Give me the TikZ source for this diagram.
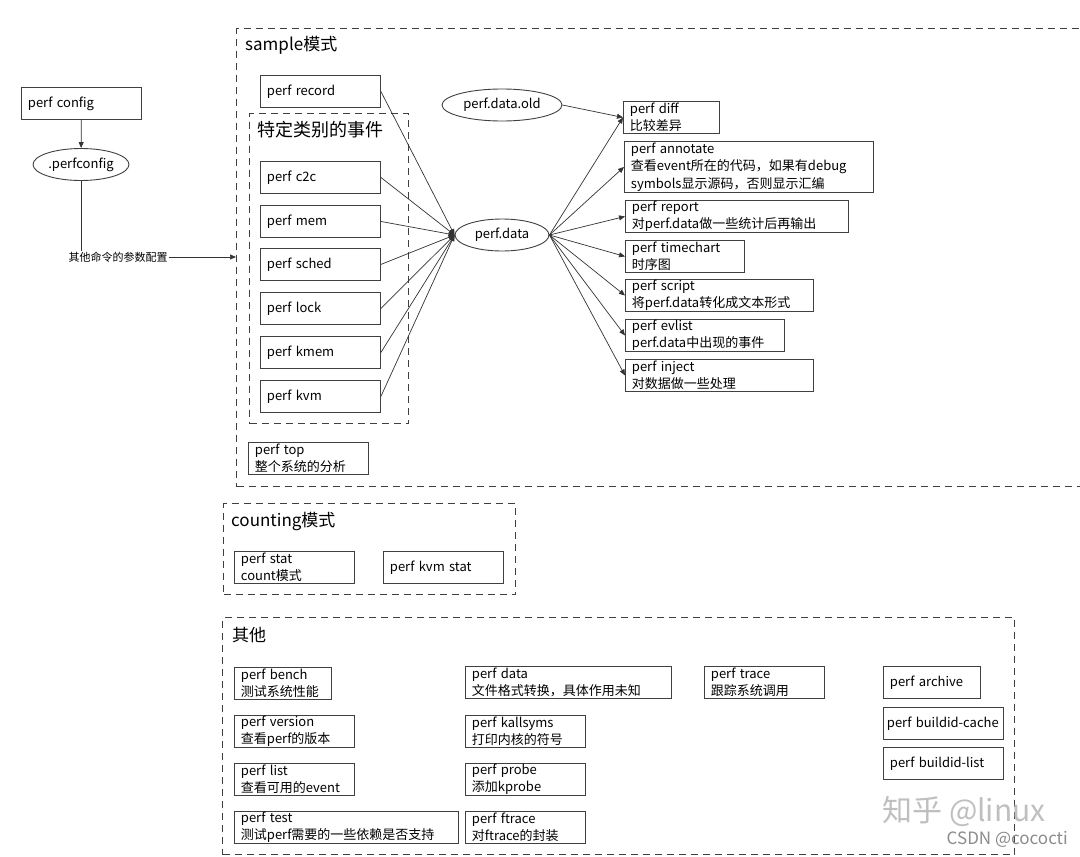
\documentclass[tikz,border=0pt]{standalone}
\usepackage{fontspec}
\setmainfont{Noto Sans CJK SC}
\usepackage{tikz}
\usetikzlibrary{arrows.meta,shapes.geometric}

\tikzset{
  cmdbox/.style={draw=black!75, line width=0.9pt, anchor=north west, inner xsep=6.5pt, inner ysep=0.5pt,
    align=left, minimum height=32pt, font=\fontsize{13}{17.5}\selectfont},
  fileoval/.style={draw=black!75, line width=0.9pt, ellipse, inner sep=0pt, minimum height=32pt,
    font=\fontsize{13}{16}\selectfont},
  groupframe/.style={draw=black!75, line width=1.1pt, dash pattern=on 7pt off 5pt, anchor=north west, inner sep=0pt},
  grouptitle/.style={anchor=west, inner sep=0pt, font=\fontsize{17}{20}\selectfont},
  link/.style={draw=black!80, line width=0.7pt, -{Triangle[length=6pt,width=5pt]}}
}

\begin{document}
\begin{tikzpicture}[x=1pt,y=-1pt]
  \clip (0,0) rectangle (1080,857);
  \fill[white] (0,0) rectangle (1080,857);

  % Config
  \node[cmdbox, text width=107pt] (pcfg) at (21,87) {perf config};
  \node[fileoval, minimum width=96pt] (pcfgfile) at (81,164.5) {.perfconfig};
  \node[inner sep=1pt, font=\fontsize{11}{13}\selectfont] (cfgnote) at (118,257) {其他命令的参数配置};

  % Frames
  \node[groupframe, minimum width=870pt, minimum height=458pt] (sampleframe) at (236,28) {};
  \node[groupframe, minimum width=159pt, minimum height=310pt] (eventframe) at (249,113) {};
  \node[groupframe, minimum width=292pt, minimum height=91pt] (countframe) at (223,503) {};
  \node[groupframe, minimum width=792pt, minimum height=237pt] (otherframe) at (222,617) {};
  \node[grouptitle] (sampletitle) at (245,45) {sample模式};
  \node[grouptitle, font=\fontsize{18}{21}\selectfont] (eventtitle) at (257,130) {特定类别的事件};
  \node[grouptitle] (counttitle) at (231,521) {counting模式};
  \node[grouptitle] (othertitle) at (232,635) {其他};

  % sample
  \node[cmdbox, text width=107pt] (rec) at (260,75) {perf record};
  \node[cmdbox, text width=107pt] (c2c) at (260,161) {perf c2c};
  \node[cmdbox, text width=107pt] (mem) at (260,205) {perf mem};
  \node[cmdbox, text width=107pt] (sched) at (260,248) {perf sched};
  \node[cmdbox, text width=107pt] (lock) at (260,292) {perf lock};
  \node[cmdbox, text width=107pt] (kmem) at (260,336) {perf kmem};
  \node[cmdbox, text width=107pt] (kvm) at (260,380) {perf kvm};
  \node[cmdbox, text width=107pt] (top) at (248,442) {perf top\\整个系统的分析};

  \node[fileoval, minimum width=94pt] (pdata) at (502,235) {perf.data};
  \node[fileoval, minimum width=120pt] (pdataold) at (502,105) {perf.data.old};

  \node[cmdbox, text width=83pt] (diff) at (623,101) {perf diff\\比较差异};
  \node[cmdbox, text width=236pt, minimum height=51pt] (annot) at (624,141) {perf annotate\\查看event所在的代码，如果有debug\\symbols显示源码，否则显示汇编};
  \node[cmdbox, text width=210pt] (report) at (625,200) {perf report\\对perf.data做一些统计后再输出};
  \node[cmdbox, text width=106pt] (tchart) at (625,240) {perf timechart\\时序图};
  \node[cmdbox, text width=175pt] (script) at (625,279) {perf script\\将perf.data转化成文本形式};
  \node[cmdbox, text width=146pt] (evlist) at (625,319) {perf evlist\\perf.data中出现的事件};
  \node[cmdbox, text width=175pt] (inject) at (625,359) {perf inject\\对数据做一些处理};

  % counting
  \node[cmdbox, text width=107pt] (stat) at (234,551) {perf stat\\count模式};
  \node[cmdbox, text width=107pt] (kvmstat) at (383,551) {perf kvm stat};

  % others
  \node[cmdbox, text width=84pt] (bench) at (234,667) {perf bench\\测试系统性能};
  \node[cmdbox, text width=107pt] (version) at (234,715) {perf version\\查看perf的版本};
  \node[cmdbox, text width=107pt] (list) at (234,763) {perf list\\查看可用的event};
  \node[cmdbox, text width=211pt] (test) at (234,811) {perf test\\测试perf需要的一些依赖是否支持};
  \node[cmdbox, text width=193pt] (pdatacmd) at (465,666) {perf data\\文件格式转换，具体作用未知};
  \node[cmdbox, text width=107pt] (kallsyms) at (465,715) {perf kallsyms\\打印内核的符号};
  \node[cmdbox, text width=107pt] (probe) at (465,763) {perf probe\\添加kprobe};
  \node[cmdbox, text width=107pt] (ftrace) at (465,811) {perf ftrace\\对ftrace的封装};
  \node[cmdbox, text width=107pt] (trace) at (704,666) {perf trace\\跟踪系统调用};
  \node[cmdbox, text width=84pt] (archive) at (883,666) {perf archive};
  \node[cmdbox, text width=113pt, inner xsep=3.5pt] (bcache) at (883,707) {\mbox{perf buildid-cache}};
  \node[cmdbox, text width=107pt] (blist) at (883,747) {perf buildid-list};

  % Links
  \draw[link] (pcfg) -- (pcfgfile);
  \draw[draw=black!80, line width=0.7pt] (pcfgfile) -- (pcfgfile.south |- cfgnote.north);
  \draw[link] (cfgnote.east) -- (cfgnote.east -| sampleframe.west);
  \foreach \n in {rec,c2c,mem,sched,lock,kmem,kvm}
    \draw[link] (\n.east) -- (pdata.west);
  \foreach \n in {diff,annot,report,tchart,script,evlist,inject}
    \draw[link] (pdata.east) -- (\n.west);
  \draw[link] (pdataold.east) -- (diff.west);

  % Watermark
  \node[text=black!25, font=\fontsize{30}{34}\selectfont, inner sep=0pt] (zhwm) at (964,811) {知乎 @linux};
  \node[text=black!45, font=\fontsize{17}{20}\selectfont, inner sep=0pt, anchor=east] (csdnwm) at (1068,839) {CSDN @cococti};
\end{tikzpicture}
\end{document}
